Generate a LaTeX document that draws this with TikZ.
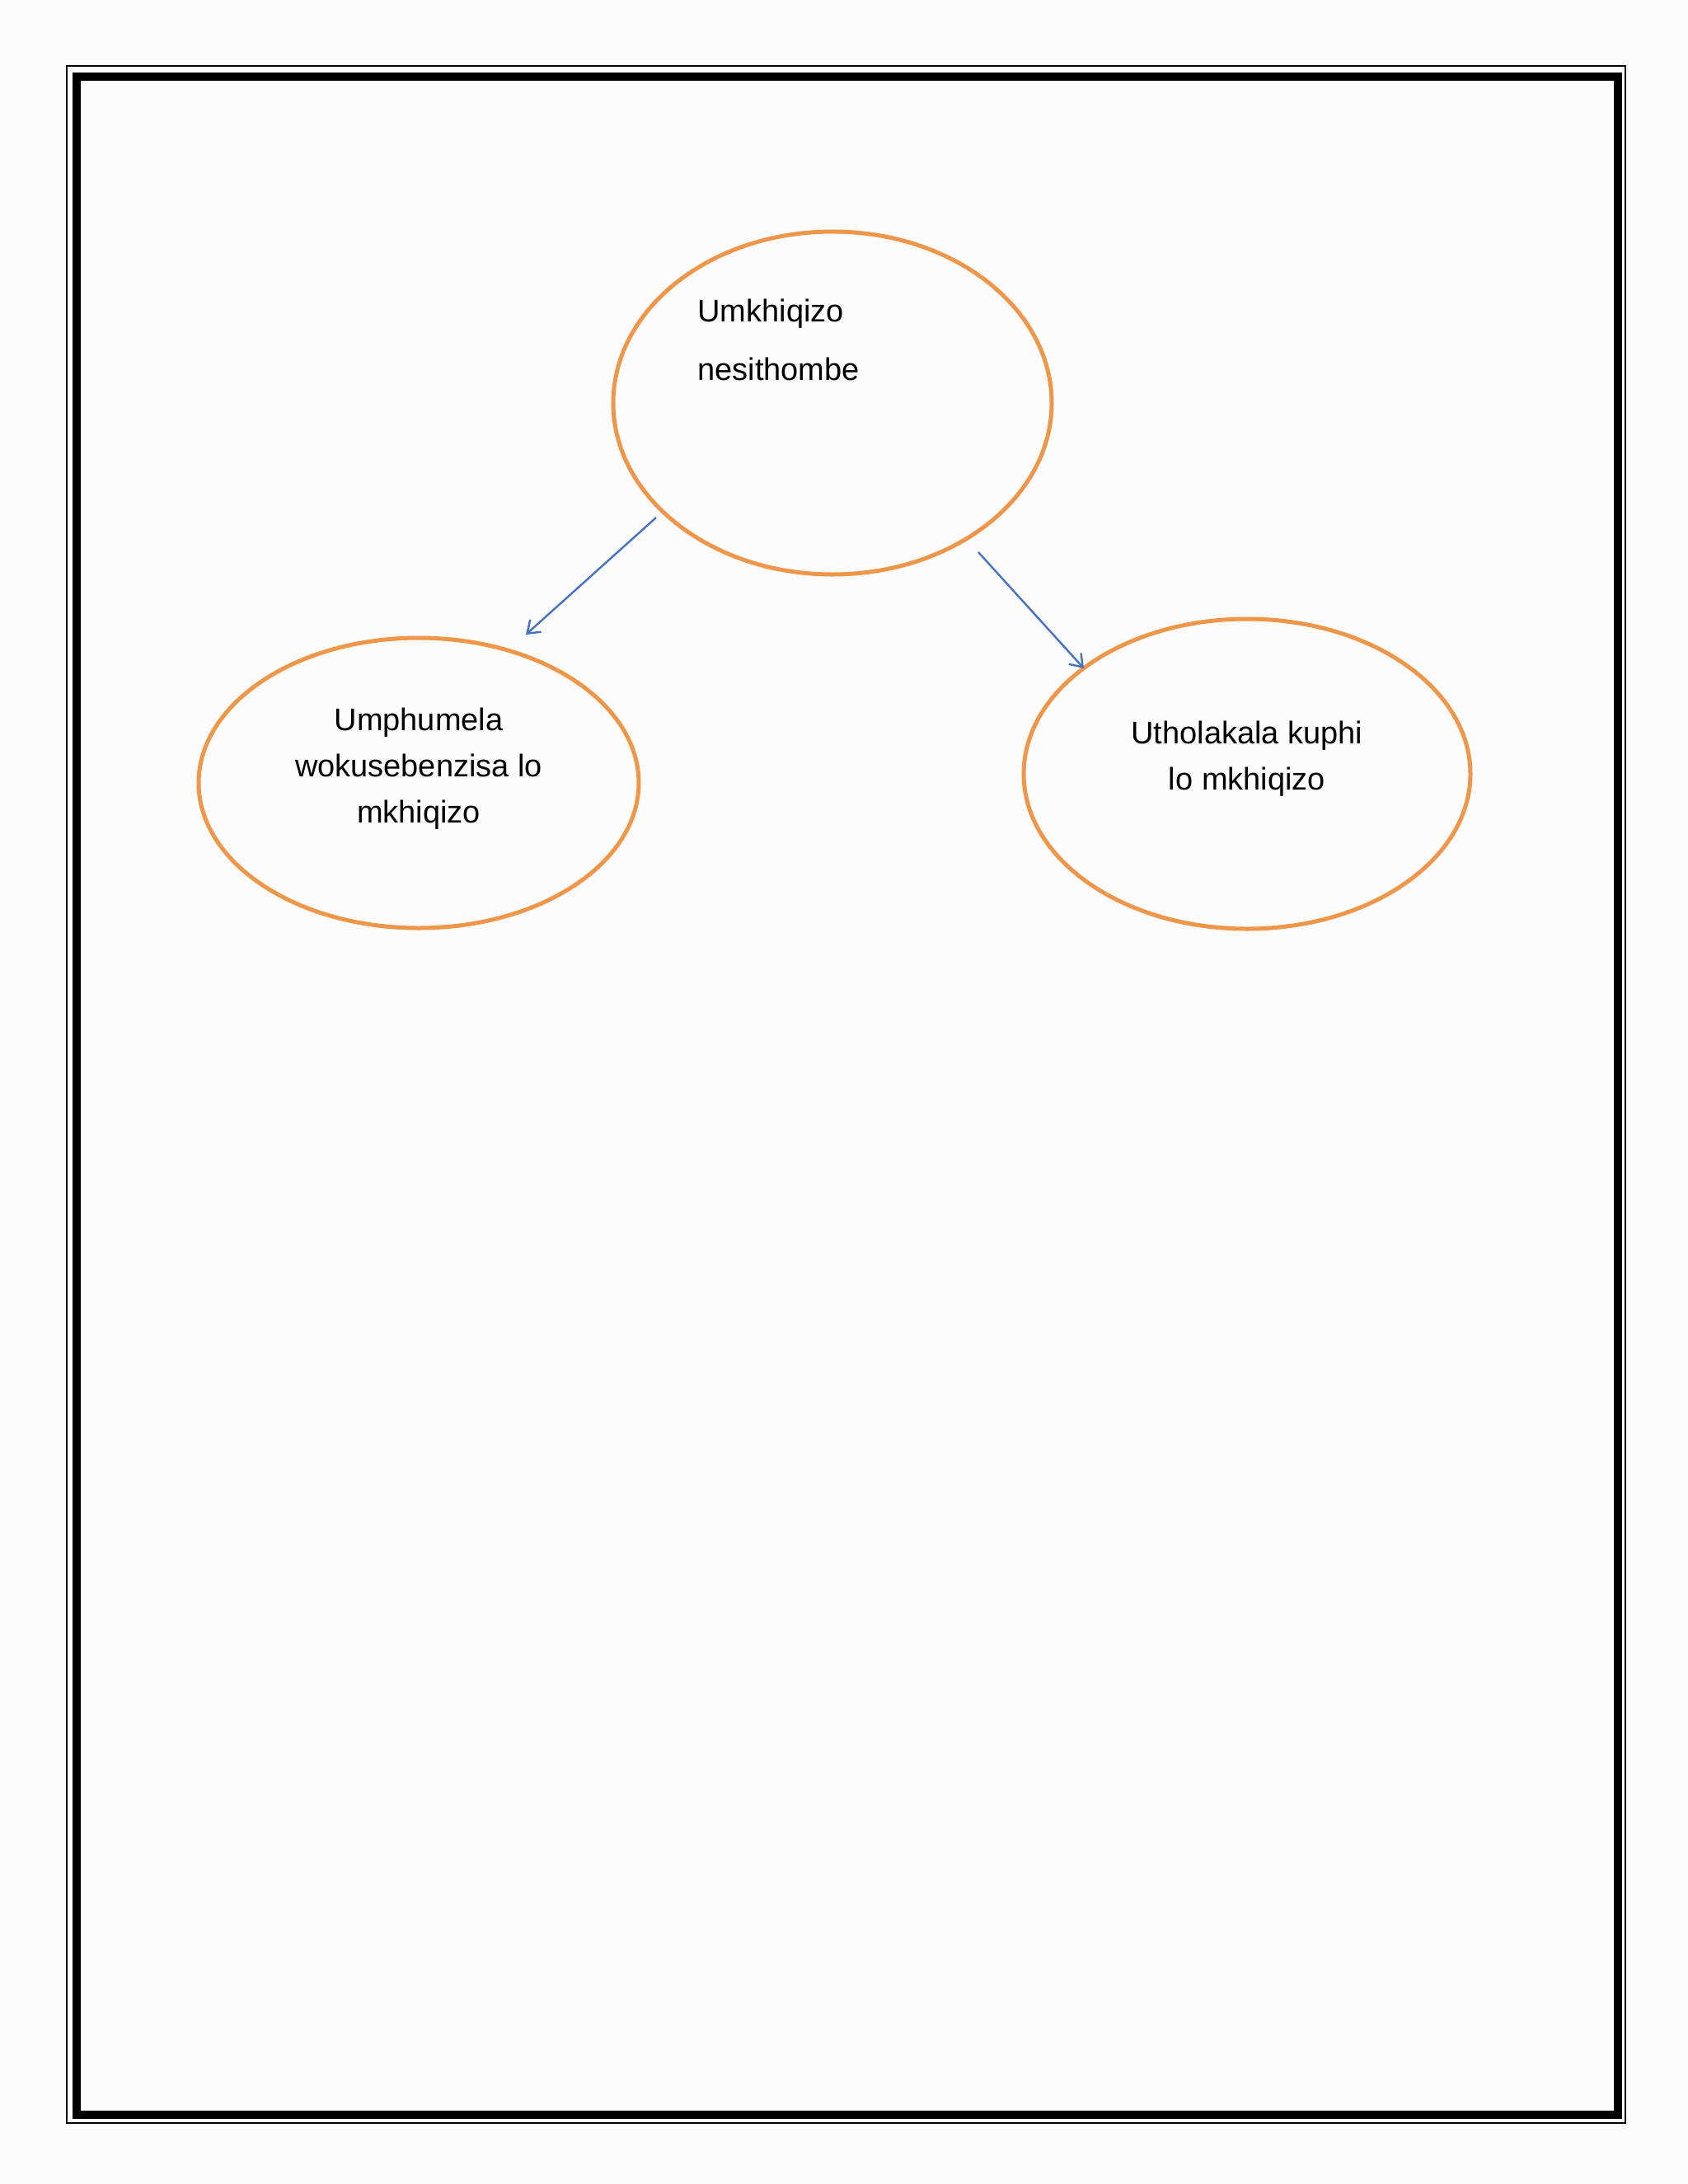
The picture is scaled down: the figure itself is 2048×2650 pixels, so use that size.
\documentclass[tikz,border=0pt]{standalone}
\usepackage{fontspec}
\setmainfont{Liberation Sans}
\usetikzlibrary{shapes.geometric,arrows.meta}
\definecolor{orng}{RGB}{240,150,72}
\definecolor{arrblue}{RGB}{68,114,196}
\tikzset{
  bub/.style={ellipse,draw=orng,line width=2.5pt,inner sep=0pt},
  txt/.style={font=\fontsize{19pt}{28pt}\selectfont,align=center,inner sep=0pt},
  conn/.style={draw=arrblue,line width=1.2pt,-{Straight Barb[length=7pt,width=10pt]}}
}
\begin{document}
\begin{tikzpicture}[x=0.5pt,y=-0.5pt]
\useasboundingbox (0,0) rectangle (2048,2650);
\fill[white!99!black] (0,0) rectangle (2048,2650);
\draw[line width=1pt] (81,80) rectangle (1972,2576);
\draw[line width=5pt] (93,93) rectangle (1963,2566);
\node[bub,minimum width=266pt,minimum height=208pt] (top) at (1010,489) {};
\node[bub,minimum width=267pt,minimum height=176pt] (left) at (508,950) {};
\node[bub,minimum width=271pt,minimum height=188pt] (right) at (1513,939) {};
\node[txt,anchor=base west] (t1) at (846,390) {Umkhiqizo};
\node[txt,anchor=base west] (t2) at (846,461) {nesithombe};
\node[txt] (lt) at (508,933) {Umphumela\\wokusebenzisa lo\\mkhiqizo};
\node[txt] (rt) at (1513,921) {Utholakala kuphi\\lo mkhiqizo};
\coordinate (a1) at (796,628);
\coordinate (a2) at (638,770);
\coordinate (b1) at (1187,670);
\coordinate (b2) at (1315,811);
\draw[conn] (a1) -- (a2);
\draw[conn] (b1) -- (b2);
\end{tikzpicture}
\end{document}
